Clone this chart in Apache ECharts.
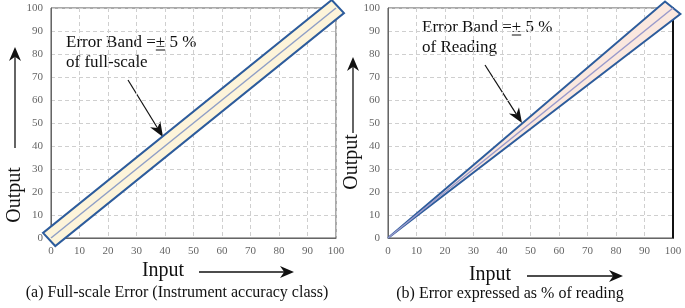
<!DOCTYPE html>
<html><head><meta charset="utf-8">
<script src="https://cdn.jsdelivr.net/npm/echarts@6/dist/echarts.min.js"></script>
<style>html,body{margin:0;padding:0;background:#fff}#c{width:685px;height:308px}</style>
</head><body><div id="c"></div>
<script>
// ---- data ----
const tickValues = [0, 10, 20, 30, 40, 50, 60, 70, 80, 90, 100];
const idealLine = [[0, 0], [100, 100]];
// (a) full-scale error band ±5 (rectangle corners, input/output units)
const bandFullScale = [[-2.8, 2.2], [1.5, -3.5], [102.8, 97.8], [98.5, 103.5]];
// (b) error band ±5 % of reading (wedge corners)
const bandReading = [[0, 0], [102.6, 97.4], [97.2, 102.8]];
const captionA = '(a) Full-scale Error (Instrument accuracy class)';
const captionB = '(b) Error expressed as % of reading';
const noteA = ['Error Band =\u00b1 5 %', 'of full-scale'];
const noteB = ['Error Band =\u00b1 5 %', 'of Reading'];
const axisNameX = 'Input';
const axisNameY = 'Output';

const chart = echarts.init(document.getElementById('c'), null, {renderer: 'canvas'});
const SERIF = '"Liberation Serif", "DejaVu Serif", serif';
const blue = '#2d5c9c';

function axisX(gi) {
  return {
    type: 'value', gridIndex: gi, min: 0, max: 100, interval: 10,
    axisLine: {show: true, lineStyle: {color: '#666', width: 1}},
    axisTick: {show: false},
    axisLabel: {color: '#666', fontFamily: SERIF, fontSize: 11, margin: 8},
    splitLine: {show: true, lineStyle: {color: '#cfcfcf', type: [4, 3], width: 1}}
  };
}
function axisY(gi) {
  return {
    type: 'value', gridIndex: gi, min: 0, max: 100, interval: 10,
    axisLine: {show: true, lineStyle: {color: '#666', width: 1}},
    axisTick: {show: false},
    axisLabel: {color: '#666', fontFamily: SERIF, fontSize: 11, margin: 8},
    splitLine: {show: true, lineStyle: {color: '#cfcfcf', type: [4, 3], width: 1}}
  };
}

function bandSeries(gi, pts, fill) {
  return {
    type: 'custom', xAxisIndex: gi, yAxisIndex: gi, clip: false, silent: true, z: 3,
    data: [0],
    renderItem: function (params, api) {
      return {
        type: 'polygon',
        shape: {points: pts.map(p => api.coord(p))},
        style: {fill: fill, stroke: blue, lineWidth: 2}
      };
    }
  };
}

function arrow(x1, y1, x2, y2, len, half, width) {
  const a = Math.atan2(y2 - y1, x2 - x1);
  const bx = x2 - len * Math.cos(a), by = y2 - len * Math.sin(a);
  const nx = -Math.sin(a), ny = Math.cos(a);
  const mx = x2 - len * 0.7 * Math.cos(a), my = y2 - len * 0.7 * Math.sin(a);
  return [
    {type: 'line', shape: {x1: x1, y1: y1, x2: mx, y2: my}, style: {stroke: '#111', lineWidth: width}},
    {type: 'polygon', shape: {points: [[x2, y2], [bx + nx * half, by + ny * half], [mx, my], [bx - nx * half, by - ny * half]]},
     style: {fill: '#111'}}
  ];
}

function text(s, x, y, size, align, extra) {
  return Object.assign({type: 'text', style: {text: s, x: x, y: y, font: size + 'px ' + SERIF, fill: '#111',
    textAlign: align || 'left', textVerticalAlign: 'middle'}}, extra || {});
}

const mctx = document.createElement('canvas').getContext('2d');
function underline(s, x, y, size) {
  mctx.font = size + 'px ' + SERIF;
  const i = s.indexOf('\u00b1');
  const x0 = x + mctx.measureText(s.slice(0, i)).width;
  const w = mctx.measureText('\u00b1').width;
  return {type: 'line', shape: {x1: x0, y1: y + 7, x2: x0 + w, y2: y + 7}, style: {stroke: '#111', lineWidth: 1}};
}

let graphics = [];
graphics.push(text(captionA, 177, 293, 16, 'center'));
graphics.push(text(captionB, 510, 294, 16, 'center'));
graphics.push(text(axisNameX, 163, 271, 20, 'center'));
graphics.push(text(axisNameX, 490, 275, 20, 'center'));
graphics = graphics.concat(arrow(199, 272, 294, 272, 14, 6, 1.3));
graphics = graphics.concat(arrow(527, 276, 623, 276, 14, 6, 1.3));
graphics.push({type: 'text', rotation: Math.PI / 2, x: 15, y: 195, style: {text: axisNameY, x: 0, y: 0, font: '20px ' + SERIF, fill: '#111', textAlign: 'center', textVerticalAlign: 'middle'}});
graphics.push({type: 'text', rotation: Math.PI / 2, x: 352, y: 162, style: {text: axisNameY, x: 0, y: 0, font: '20px ' + SERIF, fill: '#111', textAlign: 'center', textVerticalAlign: 'middle'}});
graphics = graphics.concat(arrow(15, 148, 15, 47, 14, 6, 1.3));
graphics = graphics.concat(arrow(353, 133, 353, 57, 14, 6, 1.3));
const NS = 17;
graphics.push(text(noteA[0], 66, 43, NS));
graphics.push(text(noteA[1], 66, 63, NS));
graphics.push(text(noteB[0], 422, 28, NS));
graphics.push(text(noteB[1], 422, 48, NS));
graphics.push(underline(noteA[0], 66, 43, NS));
graphics.push(underline(noteB[0], 422, 28, NS));
graphics = graphics.concat(arrow(128, 80, 163, 137, 15, 6, 1.2));
graphics = graphics.concat(arrow(485, 65, 522, 123, 15, 6, 1.2));

chart.setOption({
  animation: false,
  grid: [
    {left: 51, right: 349, top: 8, bottom: 70, show: true, borderColor: '#555', borderWidth: 1},
    {left: 388, right: 12, top: 8, bottom: 70, show: true, borderColor: '#555', borderWidth: 1}
  ],
  xAxis: [axisX(0), axisX(1)],
  yAxis: [axisY(0), axisY(1),
    {type: 'value', gridIndex: 1, min: 0, max: 100, position: 'right', axisLine: {show: true, lineStyle: {color: '#111', width: 2}},
     axisTick: {show: false}, axisLabel: {show: false}, splitLine: {show: false}}],
  series: [
    bandSeries(0, bandFullScale, '#fdf4da'),
    {type: 'line', xAxisIndex: 0, yAxisIndex: 0, data: idealLine, symbol: 'none', z: 4,
     lineStyle: {color: '#8f9fc6', width: 1.5}},
    bandSeries(1, bandReading, '#fbe8df'),
    {type: 'line', xAxisIndex: 1, yAxisIndex: 1, data: idealLine, symbol: 'none', z: 4,
     lineStyle: {color: '#9a9acb', width: 1.5}}
  ],
  graphic: graphics
});
</script></body></html>
